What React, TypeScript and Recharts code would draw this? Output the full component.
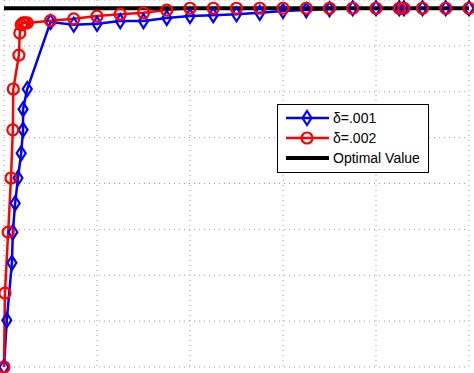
import { CartesianGrid, Line, LineChart, XAxis, YAxis } from 'recharts';

const blueX = [0, 0.6, 1.7, 1.9, 2.4, 3.0, 3.7, 4.1, 4.1, 5.0, 10, 15, 20, 25, 30, 35, 40, 45, 50, 55, 60, 65, 70, 75, 80, 85, 86, 90, 95, 100];
const blueY = [0, 1.02, 2.27, 2.94, 3.57, 4.12, 4.66, 5.17, 5.62, 6.06, 7.52, 7.46, 7.48, 7.54, 7.54, 7.61, 7.65, 7.67, 7.69, 7.72, 7.76, 7.78, 7.8, 7.82, 7.82, 7.82, 7.82, 7.82, 7.82, 7.82];

const redX = [0, 0.2, 0.9, 1.5, 1.9, 2.0, 3.2, 3.4, 3.7, 4.1, 4.5, 5.0, 10, 15, 20, 25, 30, 35, 40, 45, 50, 55, 60, 65, 70, 75, 80, 85, 86, 90, 95, 100];
const redY = [0, 1.61, 2.94, 4.12, 5.17, 6.06, 6.8, 7.28, 7.46, 7.5, 7.5, 7.5, 7.55, 7.59, 7.65, 7.69, 7.72, 7.78, 7.82, 7.82, 7.82, 7.82, 7.82, 7.82, 7.82, 7.82, 7.82, 7.82, 7.82, 7.82, 7.82, 7.82];

const optimalX = [0, 100];
const optimalValue = 7.82;

const xTicks = [0, 20, 40, 60, 80, 100];
const yTicks = [0, 1, 2, 3, 4, 5, 6, 7, 8];

const legendLabels = ['δ=.001', 'δ=.002', 'Optimal Value'];

const blueData = blueX.map((x, i) => ({ x, y: blueY[i] }));
const redData = redX.map((x, i) => ({ x, y: redY[i] }));
const optimalData = optimalX.map((x) => ({ x, y: optimalValue }));

const Diamond = (props: any) => {
    const { cx, cy, key } = props;
    if (cx == null || cy == null) return null;
    return (
        <polygon
            key={key}
            points={`${cx},${cy - 7} ${cx + 4.5},${cy} ${cx},${cy + 7} ${cx - 4.5},${cy}`}
            fill="none"
            stroke="#0000ff"
            strokeWidth={2.2}
        />
    );
};

const Ring = (props: any) => {
    const { cx, cy, key } = props;
    if (cx == null || cy == null) return null;
    return <circle key={key} cx={cx} cy={cy} r={5.5} fill="none" stroke="#ff0000" strokeWidth={2.2} />;
};

// legend drawn as an overlay so the plot keeps its full height
function LegendBox() {
    const rows = [
        { label: legendLabels[0], color: '#0000ff', marker: 'diamond', w: 2.5 },
        { label: legendLabels[1], color: '#ff0000', marker: 'circle', w: 2.5 },
        { label: legendLabels[2], color: '#000000', marker: 'none', w: 4 },
    ];
    return (
        <svg width={152} height={69} style={{ display: 'block' }}>
            <rect x={0.5} y={0.5} width={151} height={68} fill="#fff" stroke="#000" strokeWidth={1} />
            {rows.map((r, i) => {
                const y = 14 + i * 20;
                return (
                    <g key={r.label}>
                        <line x1={9} x2={52} y1={y} y2={y} stroke={r.color} strokeWidth={r.w} />
                        {r.marker === 'diamond' && (
                            <polygon
                                points={`30,${y - 7} 34.5,${y} 30,${y + 7} 25.5,${y}`}
                                fill="none"
                                stroke={r.color}
                                strokeWidth={2.2}
                            />
                        )}
                        {r.marker === 'circle' && (
                            <circle cx={30} cy={y} r={5.5} fill="none" stroke={r.color} strokeWidth={2.2} />
                        )}
                        <text
                            x={56}
                            y={y + 5}
                            fontSize={14}
                            fontFamily="Liberation Sans, Arial, sans-serif"
                            fill="#000"
                        >
                            {r.label}
                        </text>
                    </g>
                );
            })}
        </svg>
    );
}

export default function App() {
    return (
        <div style={{ position: 'fixed', left: 0, top: 0, width: 474, height: 373, background: '#fff' }}>
            <LineChart width={474} height={373} margin={{ top: 0, right: 5, left: 4, bottom: 6 }}>
                <CartesianGrid stroke="#9a9a9a" strokeDasharray="1 4" />
                <XAxis
                    type="number"
                    dataKey="x"
                    domain={[0, 100]}
                    ticks={xTicks}
                    height={0}
                    tickSize={-5}
                    tickFormatter={() => ''}
                    axisLine={{ stroke: '#444', strokeWidth: 1.5 }}
                    tickLine={{ stroke: '#444' }}
                    allowDuplicatedCategory={false}
                />
                <YAxis
                    type="number"
                    domain={[0, 8]}
                    ticks={yTicks}
                    width={0}
                    tickSize={-5}
                    tickFormatter={() => ''}
                    axisLine={{ stroke: '#777', strokeWidth: 2 }}
                    tickLine={{ stroke: '#444' }}
                />
                <Line
                    data={blueData}
                    dataKey="y"
                    stroke="#0000ff"
                    strokeWidth={2.5}
                    dot={Diamond}
                    activeDot={false}
                    isAnimationActive={false}
                />
                <Line
                    data={redData}
                    dataKey="y"
                    stroke="#ff0000"
                    strokeWidth={2.5}
                    dot={Ring}
                    activeDot={false}
                    isAnimationActive={false}
                />
                <Line
                    data={optimalData}
                    dataKey="y"
                    stroke="#000000"
                    strokeWidth={4}
                    dot={false}
                    activeDot={false}
                    isAnimationActive={false}
                />
            </LineChart>
            <div style={{ position: 'absolute', left: 277, top: 104 }}>
                <LegendBox />
            </div>
        </div>
    );
}
